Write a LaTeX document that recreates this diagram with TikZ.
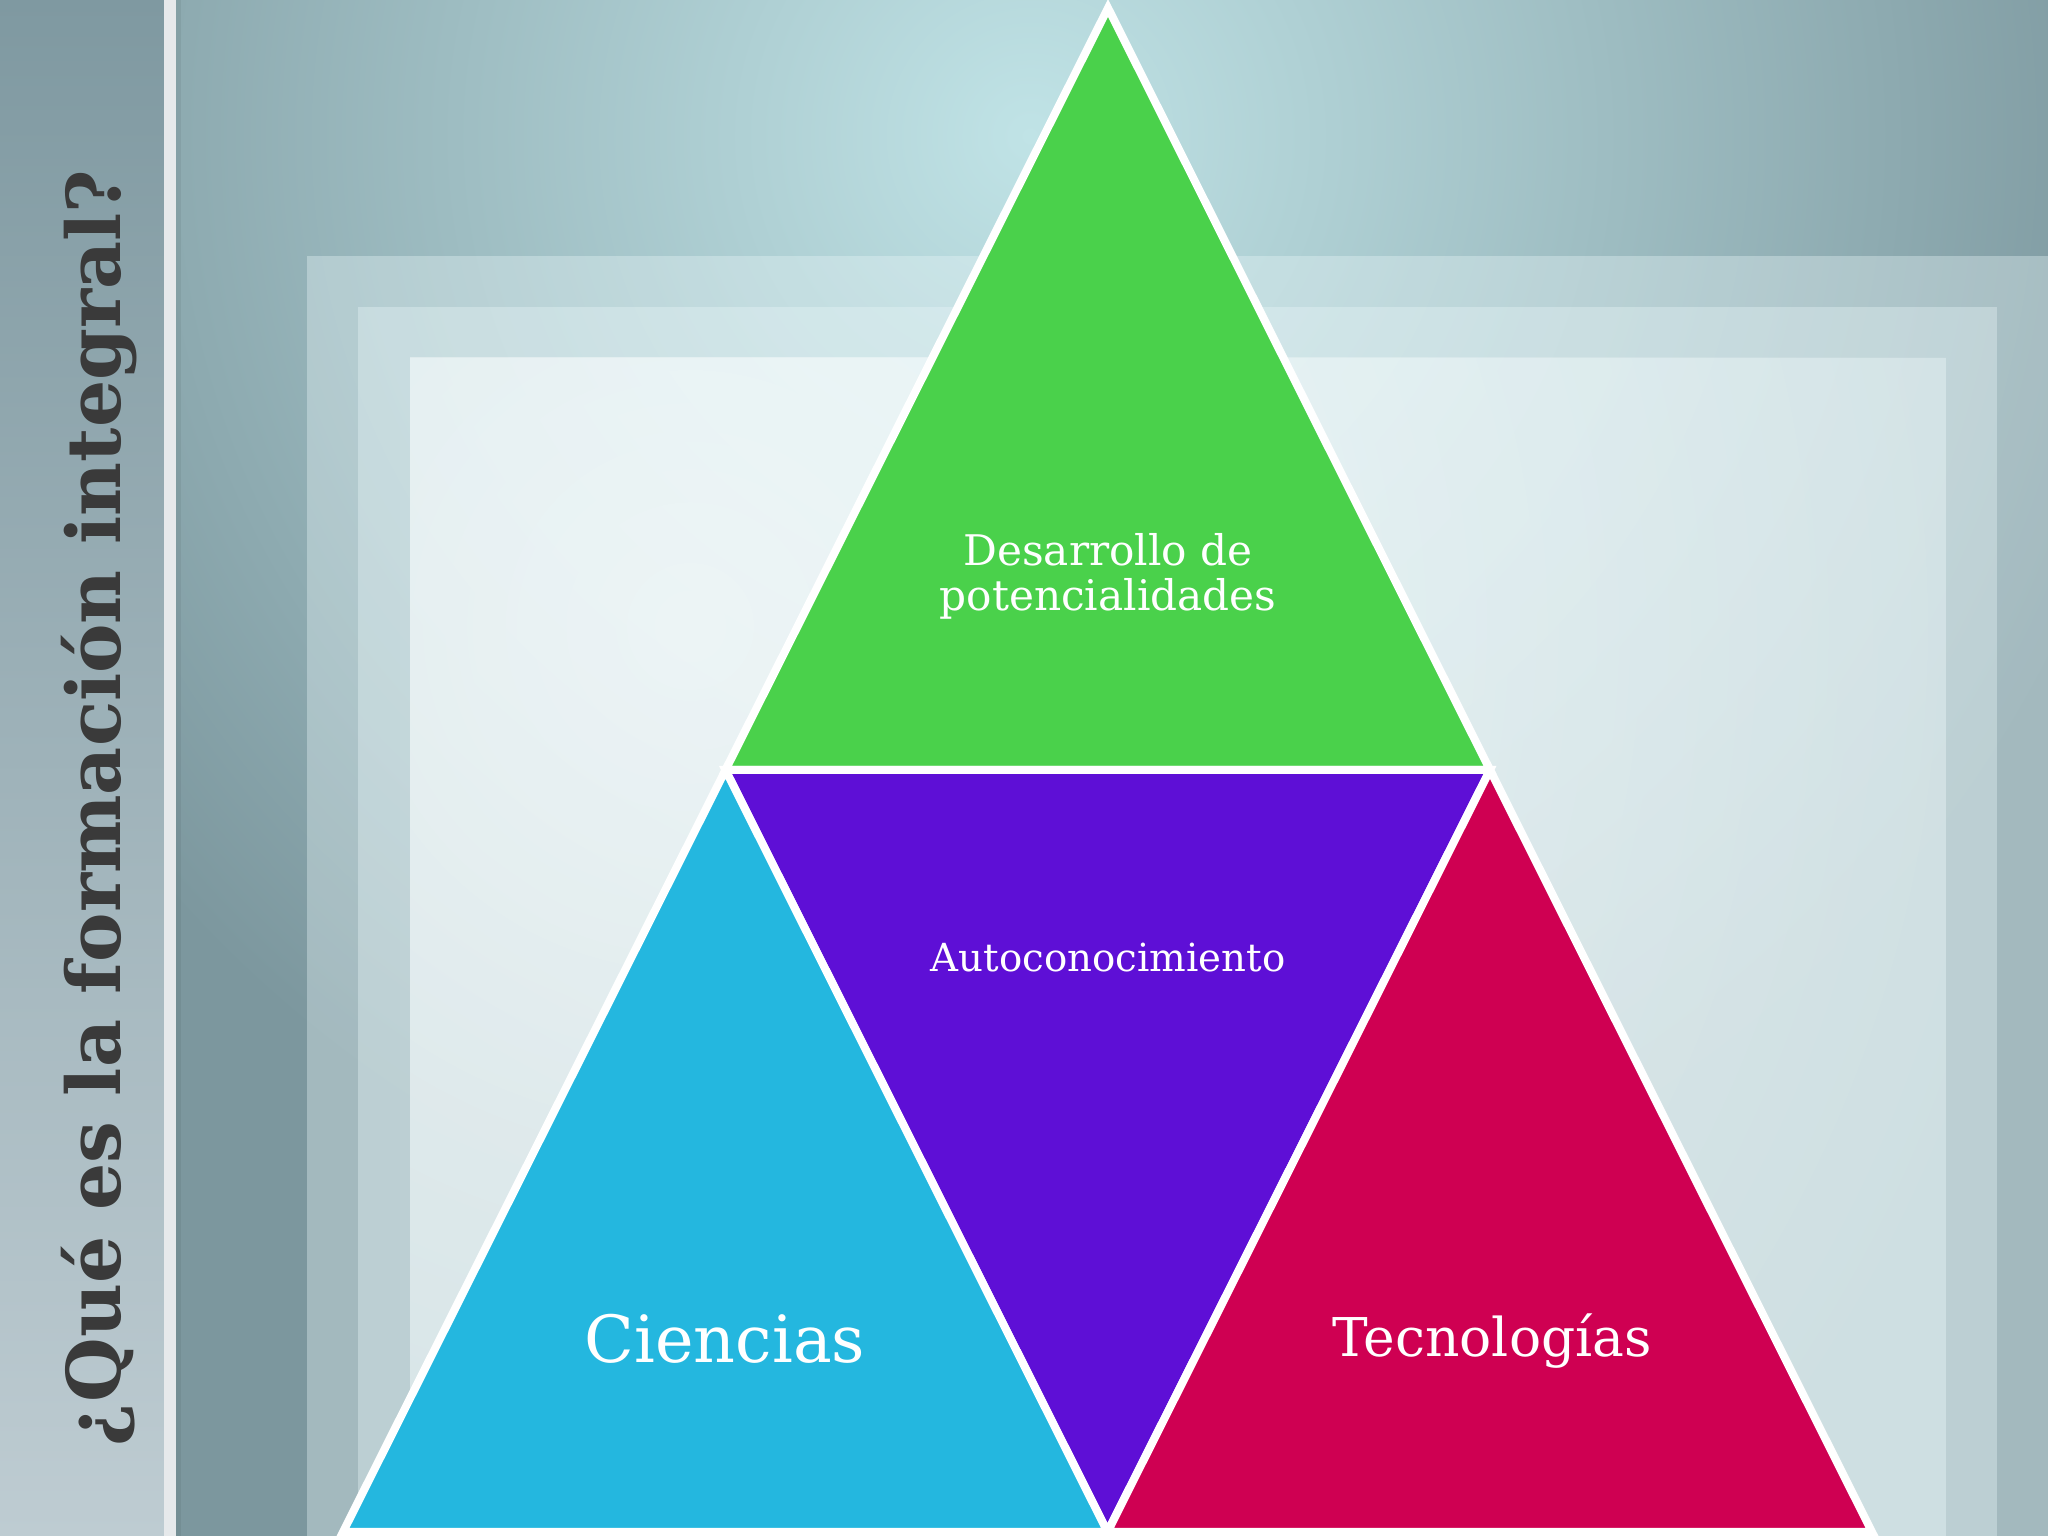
\documentclass[tikz,border=0pt]{standalone}
\usepackage{fontspec}
\setmainfont{DejaVu Serif}
\usetikzlibrary{calc,fadings}
\definecolor{bgdark}{HTML}{7C979E}
\definecolor{bglight}{HTML}{C0E3E6}
\definecolor{panetop}{HTML}{7F99A1}
\definecolor{panebot}{HTML}{BECCD2}
\definecolor{rulegray}{HTML}{E6E9EB}
\definecolor{veil}{HTML}{EAF7F9}
\definecolor{tgreen}{HTML}{4AD14B}
\definecolor{tviolet}{HTML}{5E0FD6}
\definecolor{tcyan}{HTML}{24B7DF}
\definecolor{tcrimson}{HTML}{CF0052}
\definecolor{titleink}{HTML}{3A3A3A}
\tikzfading[name=glowfade, inner color=transparent!0, outer color=transparent!100]

\begin{document}
\begin{tikzpicture}[
  x=0.01cm, y=0.01cm,
  every node/.style={inner sep=0pt, outer sep=0pt, text=white, align=center},
  layer/.style={fill=veil, fill opacity=#1},
  tri/.style={fill=#1, draw=white, line width=0.08cm, line join=miter},
  title/.style={rotate=90, anchor=base, text=titleink,
                font=\bfseries\fontsize{21.1}{25}\selectfont},
]
\useasboundingbox (0,0) rectangle (2048,1536);

% ---------------------------------------------------------------- backdrop
\begin{scope}
  \clip (176,0) rectangle (2048,1536);
  \fill[bgdark] (176,0) rectangle (2048,1536);
  \shade[inner color=bglight, outer color=bgdark] (1030,1400) circle (1150);
\end{scope}
\shade[top color=panetop, bottom color=panebot] (0,0) rectangle (164,1536);
\fill[rulegray] (164,0) rectangle (176,1536);
\fill[black, fill opacity=0.06] (176,0) rectangle (181,1536);

% ---------------------------------------------------------------- frames
\fill[layer=0.36] (307,0) rectangle (2048,1280);
\fill[layer=0.36] (358,0) rectangle (1997,1229);
\fill[layer=0.40] (410,0) rectangle (1946,1178);
\begin{scope}
  \clip (410,0) rectangle (1946,1178);
  \fill[white, path fading=glowfade, fill opacity=0.55] (690,910) circle (1400);
\end{scope}

% ---------------------------------------------------------------- pyramid
\coordinate (apex) at (1108,1528);
\coordinate (bl)   at (343,4);
\coordinate (br)   at (1872,4);
\coordinate (ml)   at ($(apex)!0.5!(bl)$);
\coordinate (mr)   at ($(apex)!0.5!(br)$);
\coordinate (mb)   at ($(bl)!0.5!(br)$);

\draw[tri=tgreen]   (apex) -- (ml) -- (mr) -- cycle;
\draw[tri=tviolet]  (ml) -- (mr) -- (mb) -- cycle;
\draw[tri=tcyan]    (ml) -- (bl) -- (mb) -- cycle;
\draw[tri=tcrimson] (mr) -- (mb) -- (br) -- cycle;

% ---------------------------------------------------------------- labels
\node[font=\fontsize{12}{12.8}\selectfont] (dev) at (1108,960)
  {Desarrollo de\\potencialidades};
\node[anchor=base, font=\fontsize{11}{13}\selectfont] (auto) at (1108,564)
  {Autoconocimiento};
\node[anchor=base, font=\fontsize{18.5}{22}\selectfont] (cien) at (725,173)
  {Ciencias};
\node[anchor=base, font=\fontsize{15.2}{18}\selectfont] (tec) at (1492,179)
  {Tecnologías};

% ---------------------------------------------------------------- title
\node[title] (head) at (121,728) {¿Qué es la formación integral?};

\end{tikzpicture}
\end{document}
